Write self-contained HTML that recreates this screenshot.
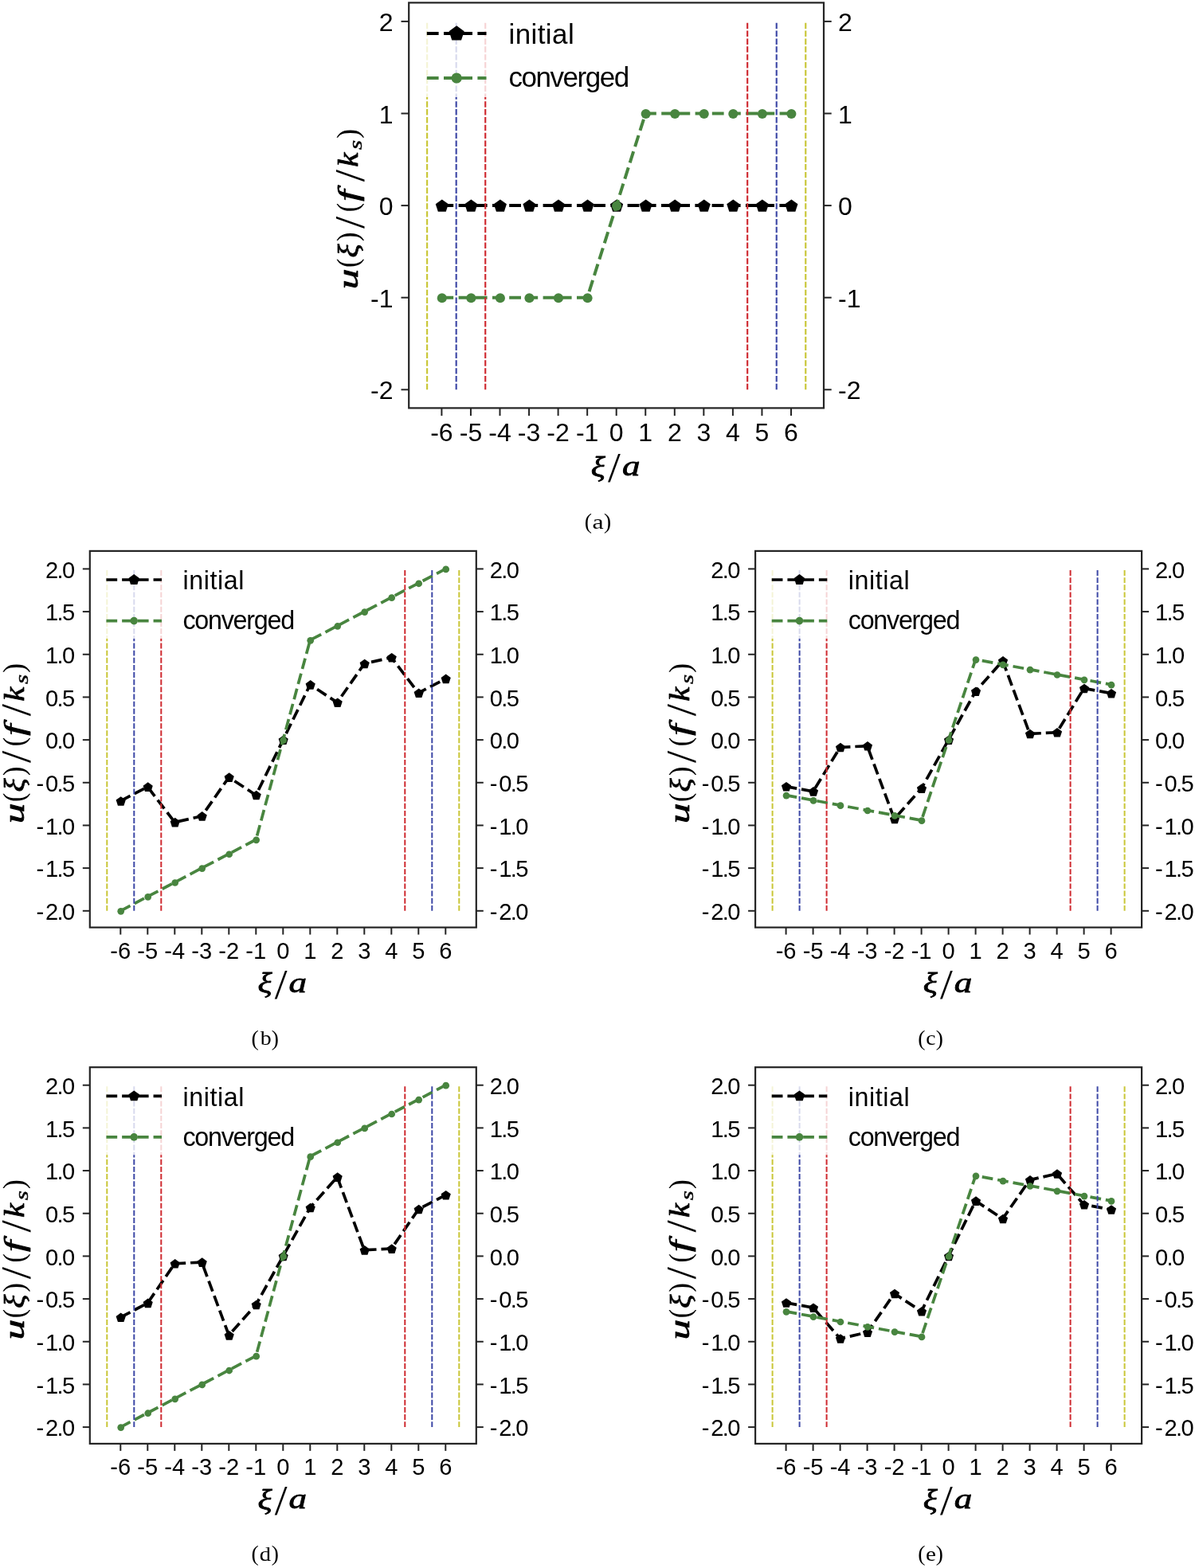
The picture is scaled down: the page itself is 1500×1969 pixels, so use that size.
<!DOCTYPE html>
<html><head><meta charset="utf-8"><title>Figure</title>
<style>
html,body{margin:0;padding:0;background:#fff;}
svg{display:block;}
.sans{font-family:"Liberation Sans","DejaVu Sans",sans-serif;fill:#000;}
.rm{font-family:"Liberation Serif","DejaVu Serif",serif;fill:#000;}
.it{font-family:"Liberation Serif","DejaVu Serif",serif;font-style:italic;fill:#000;}
.bi{font-family:"Liberation Serif","DejaVu Serif",serif;font-weight:bold;font-style:italic;fill:#000;}
</style></head><body>
<svg width="1500" height="1969" viewBox="0 0 1500 1969">
<rect x="0" y="0" width="1500" height="1969" fill="#ffffff"/>
<g>
<polyline points="554.40,258.10 590.95,258.10 627.50,258.10 664.05,258.10 700.60,258.10 737.15,258.10 773.70,258.10 810.25,258.10 846.80,258.10 883.35,258.10 919.90,258.10 956.45,258.10 993.00,258.10" fill="none" stroke="#000000" stroke-width="4.00" stroke-dasharray="14.80 6.40"/>
<polygon points="554.80,250.40 562.84,256.24 559.77,265.69 549.83,265.69 546.76,256.24" fill="#000000"/>
<polygon points="591.35,250.40 599.39,256.24 596.32,265.69 586.38,265.69 583.31,256.24" fill="#000000"/>
<polygon points="627.90,250.40 635.94,256.24 632.87,265.69 622.93,265.69 619.86,256.24" fill="#000000"/>
<polygon points="664.45,250.40 672.49,256.24 669.42,265.69 659.48,265.69 656.41,256.24" fill="#000000"/>
<polygon points="701.00,250.40 709.04,256.24 705.97,265.69 696.03,265.69 692.96,256.24" fill="#000000"/>
<polygon points="737.55,250.40 745.59,256.24 742.52,265.69 732.58,265.69 729.51,256.24" fill="#000000"/>
<polygon points="774.10,250.40 782.14,256.24 779.07,265.69 769.13,265.69 766.06,256.24" fill="#000000"/>
<polygon points="810.65,250.40 818.69,256.24 815.62,265.69 805.68,265.69 802.61,256.24" fill="#000000"/>
<polygon points="847.20,250.40 855.24,256.24 852.17,265.69 842.23,265.69 839.16,256.24" fill="#000000"/>
<polygon points="883.75,250.40 891.79,256.24 888.72,265.69 878.78,265.69 875.71,256.24" fill="#000000"/>
<polygon points="920.30,250.40 928.34,256.24 925.27,265.69 915.33,265.69 912.26,256.24" fill="#000000"/>
<polygon points="956.85,250.40 964.89,256.24 961.82,265.69 951.88,265.69 948.81,256.24" fill="#000000"/>
<polygon points="993.40,250.40 1001.44,256.24 998.37,265.69 988.43,265.69 985.36,256.24" fill="#000000"/>
<polyline points="554.40,373.70 590.95,373.70 627.50,373.70 664.05,373.70 700.60,373.70 737.15,373.70 773.70,258.10 810.25,142.50 846.80,142.50 883.35,142.50 919.90,142.50 956.45,142.50 993.00,142.50" fill="none" stroke="#48853f" stroke-width="4.00" stroke-dasharray="14.80 6.40"/>
<circle cx="554.80" cy="374.20" r="6.05" fill="#48853f"/>
<circle cx="591.35" cy="374.20" r="6.05" fill="#48853f"/>
<circle cx="627.90" cy="374.20" r="6.05" fill="#48853f"/>
<circle cx="664.45" cy="374.20" r="6.05" fill="#48853f"/>
<circle cx="701.00" cy="374.20" r="6.05" fill="#48853f"/>
<circle cx="737.55" cy="374.20" r="6.05" fill="#48853f"/>
<circle cx="774.10" cy="258.60" r="6.05" fill="#48853f"/>
<circle cx="810.65" cy="143.00" r="6.05" fill="#48853f"/>
<circle cx="847.20" cy="143.00" r="6.05" fill="#48853f"/>
<circle cx="883.75" cy="143.00" r="6.05" fill="#48853f"/>
<circle cx="920.30" cy="143.00" r="6.05" fill="#48853f"/>
<circle cx="956.85" cy="143.00" r="6.05" fill="#48853f"/>
<circle cx="993.40" cy="143.00" r="6.05" fill="#48853f"/>
<line x1="536.12" y1="489.30" x2="536.12" y2="26.90" stroke="#c9c636" stroke-width="2.15" stroke-dasharray="7.45 2.40"/>
<line x1="572.68" y1="489.30" x2="572.68" y2="26.90" stroke="#3d48a6" stroke-width="2.15" stroke-dasharray="7.45 2.40"/>
<line x1="609.23" y1="489.30" x2="609.23" y2="26.90" stroke="#cf2a30" stroke-width="2.15" stroke-dasharray="7.45 2.40"/>
<line x1="938.18" y1="489.30" x2="938.18" y2="26.90" stroke="#cf2a30" stroke-width="2.15" stroke-dasharray="7.45 2.40"/>
<line x1="974.73" y1="489.30" x2="974.73" y2="26.90" stroke="#3d48a6" stroke-width="2.15" stroke-dasharray="7.45 2.40"/>
<line x1="1011.28" y1="489.30" x2="1011.28" y2="26.90" stroke="#c9c636" stroke-width="2.15" stroke-dasharray="7.45 2.40"/>
<rect x="524.0" y="14.0" width="280.0" height="108.0" fill="#ffffff" fill-opacity="0.8"/>
<line x1="535.80" y1="42.00" x2="610.50" y2="42.00" stroke="#000000" stroke-width="4.00" stroke-dasharray="14.80 6.40"/>
<polygon points="573.15,32.30 582.66,39.21 579.03,50.39 567.27,50.39 563.64,39.21" fill="#000000"/>
<text class="sans" x="638.5" y="55.3" font-size="35.0" textLength="82.2" lengthAdjust="spacing">initial</text>
<line x1="535.80" y1="98.00" x2="610.50" y2="98.00" stroke="#48853f" stroke-width="4.00" stroke-dasharray="14.80 6.40"/>
<circle cx="573.15" cy="98.00" r="6.60" fill="#48853f"/>
<text class="sans" x="638.5" y="109.3" font-size="35.0" textLength="151.6" lengthAdjust="spacing">converged</text>
<rect x="513.20" y="3.40" width="520.80" height="509.00" fill="none" stroke="#242424" stroke-width="2.20"/>
<line x1="554.40" y1="512.40" x2="554.40" y2="522.10" stroke="#242424" stroke-width="2.00"/>
<text class="sans" x="554.40" y="554.30" font-size="32.0" text-anchor="middle">-6</text>
<line x1="590.95" y1="512.40" x2="590.95" y2="522.10" stroke="#242424" stroke-width="2.00"/>
<text class="sans" x="590.95" y="554.30" font-size="32.0" text-anchor="middle">-5</text>
<line x1="627.50" y1="512.40" x2="627.50" y2="522.10" stroke="#242424" stroke-width="2.00"/>
<text class="sans" x="627.50" y="554.30" font-size="32.0" text-anchor="middle">-4</text>
<line x1="664.05" y1="512.40" x2="664.05" y2="522.10" stroke="#242424" stroke-width="2.00"/>
<text class="sans" x="664.05" y="554.30" font-size="32.0" text-anchor="middle">-3</text>
<line x1="700.60" y1="512.40" x2="700.60" y2="522.10" stroke="#242424" stroke-width="2.00"/>
<text class="sans" x="700.60" y="554.30" font-size="32.0" text-anchor="middle">-2</text>
<line x1="737.15" y1="512.40" x2="737.15" y2="522.10" stroke="#242424" stroke-width="2.00"/>
<text class="sans" x="737.15" y="554.30" font-size="32.0" text-anchor="middle">-1</text>
<line x1="773.70" y1="512.40" x2="773.70" y2="522.10" stroke="#242424" stroke-width="2.00"/>
<text class="sans" x="773.70" y="554.30" font-size="32.0" text-anchor="middle">0</text>
<line x1="810.25" y1="512.40" x2="810.25" y2="522.10" stroke="#242424" stroke-width="2.00"/>
<text class="sans" x="810.25" y="554.30" font-size="32.0" text-anchor="middle">1</text>
<line x1="846.80" y1="512.40" x2="846.80" y2="522.10" stroke="#242424" stroke-width="2.00"/>
<text class="sans" x="846.80" y="554.30" font-size="32.0" text-anchor="middle">2</text>
<line x1="883.35" y1="512.40" x2="883.35" y2="522.10" stroke="#242424" stroke-width="2.00"/>
<text class="sans" x="883.35" y="554.30" font-size="32.0" text-anchor="middle">3</text>
<line x1="919.90" y1="512.40" x2="919.90" y2="522.10" stroke="#242424" stroke-width="2.00"/>
<text class="sans" x="919.90" y="554.30" font-size="32.0" text-anchor="middle">4</text>
<line x1="956.45" y1="512.40" x2="956.45" y2="522.10" stroke="#242424" stroke-width="2.00"/>
<text class="sans" x="956.45" y="554.30" font-size="32.0" text-anchor="middle">5</text>
<line x1="993.00" y1="512.40" x2="993.00" y2="522.10" stroke="#242424" stroke-width="2.00"/>
<text class="sans" x="993.00" y="554.30" font-size="32.0" text-anchor="middle">6</text>
<line x1="503.50" y1="26.90" x2="513.20" y2="26.90" stroke="#242424" stroke-width="2.00"/>
<line x1="1034.00" y1="26.90" x2="1043.70" y2="26.90" stroke="#242424" stroke-width="2.00"/>
<text class="sans" x="493.50" y="38.90" font-size="32.0" text-anchor="end" letter-spacing="0.00">2</text>
<text class="sans" x="1052.00" y="38.90" font-size="32.0" text-anchor="start" letter-spacing="0.00">2</text>
<line x1="503.50" y1="142.50" x2="513.20" y2="142.50" stroke="#242424" stroke-width="2.00"/>
<line x1="1034.00" y1="142.50" x2="1043.70" y2="142.50" stroke="#242424" stroke-width="2.00"/>
<text class="sans" x="493.50" y="154.50" font-size="32.0" text-anchor="end" letter-spacing="0.00">1</text>
<text class="sans" x="1052.00" y="154.50" font-size="32.0" text-anchor="start" letter-spacing="0.00">1</text>
<line x1="503.50" y1="258.10" x2="513.20" y2="258.10" stroke="#242424" stroke-width="2.00"/>
<line x1="1034.00" y1="258.10" x2="1043.70" y2="258.10" stroke="#242424" stroke-width="2.00"/>
<text class="sans" x="493.50" y="270.10" font-size="32.0" text-anchor="end" letter-spacing="0.00">0</text>
<text class="sans" x="1052.00" y="270.10" font-size="32.0" text-anchor="start" letter-spacing="0.00">0</text>
<line x1="503.50" y1="373.70" x2="513.20" y2="373.70" stroke="#242424" stroke-width="2.00"/>
<line x1="1034.00" y1="373.70" x2="1043.70" y2="373.70" stroke="#242424" stroke-width="2.00"/>
<text class="sans" x="493.50" y="385.70" font-size="32.0" text-anchor="end" letter-spacing="0.00">-1</text>
<text class="sans" x="1052.00" y="385.70" font-size="32.0" text-anchor="start" letter-spacing="0.00">-1</text>
<line x1="503.50" y1="489.30" x2="513.20" y2="489.30" stroke="#242424" stroke-width="2.00"/>
<line x1="1034.00" y1="489.30" x2="1043.70" y2="489.30" stroke="#242424" stroke-width="2.00"/>
<text class="sans" x="493.50" y="501.30" font-size="32.0" text-anchor="end" letter-spacing="0.00">-2</text>
<text class="sans" x="1052.00" y="501.30" font-size="32.0" text-anchor="start" letter-spacing="0.00">-2</text>
<g transform="translate(773.70,597.30)">
<text class="it" font-size="100" stroke="#000" stroke-width="2.20" stroke-linejoin="round" transform="matrix(0.4218 0 0 0.3600 -31.84 0.75)">ξ</text>
<text class="rm" font-size="100" transform="matrix(0.5687 0 0 0.5202 -10.60 7.99)">/</text>
<text class="it" font-size="100" stroke="#000" stroke-width="2.20" stroke-linejoin="round" transform="matrix(0.4507 0 0 0.3493 7.26 0.04)">a</text>
</g>
<g transform="translate(449.00,360.60) rotate(-90)">
<text class="it" font-size="100" stroke="#000" stroke-width="2.20" stroke-linejoin="round" transform="matrix(0.5144 0 0 0.3484 -2.56 -0.21)">u</text>
<text class="rm" font-size="100" transform="matrix(0.3426 0 0 0.3860 24.69 0.38)">(</text>
<text class="it" font-size="100" stroke="#000" stroke-width="2.20" stroke-linejoin="round" transform="matrix(0.4015 0 0 0.3543 37.13 0.36)">ξ</text>
<text class="rm" font-size="100" transform="matrix(0.3504 0 0 0.3860 57.27 0.38)">)</text>
<text class="rm" font-size="100" transform="matrix(0.5471 0 0 0.5232 73.60 8.09)">/</text>
<text class="rm" font-size="100" transform="matrix(0.3426 0 0 0.3860 94.29 0.38)">(</text>
<text class="it" font-size="100" stroke="#000" stroke-width="2.20" stroke-linejoin="round" transform="matrix(0.5107 0 0 0.3479 107.93 -0.21)">f</text>
<text class="rm" font-size="100" transform="matrix(0.5471 0 0 0.5232 132.40 8.09)">/</text>
<text class="it" font-size="100" stroke="#000" stroke-width="2.20" stroke-linejoin="round" transform="matrix(0.4073 0 0 0.3560 150.83 0.00)">k</text>
<text class="it" font-size="100" stroke="#000" stroke-width="2.20" stroke-linejoin="round" transform="matrix(0.3115 0 0 0.2370 172.62 4.57)">s</text>
<text class="rm" font-size="100" transform="matrix(0.3660 0 0 0.3860 186.72 0.38)">)</text>
</g>
<g transform="translate(750.45,663.80)">
<text class="rm" font-size="100" transform="matrix(0.2764 0 0 0.2779 -16.66 0.38)">(</text>
<text class="rm" font-size="100" transform="matrix(0.3190 0 0 0.2505 -7.02 0.06)">a</text>
<text class="rm" font-size="100" transform="matrix(0.2764 0 0 0.2779 7.46 0.38)">)</text>
</g>
</g>
<g>
<polyline points="151.30,1005.88 185.30,988.02 219.30,1032.55 253.30,1024.83 287.30,976.07 321.30,998.44 355.30,929.10 389.30,859.76 423.30,882.13 457.30,833.37 491.30,825.65 525.30,870.18 559.30,852.32" fill="none" stroke="#000000" stroke-width="3.72" stroke-dasharray="13.77 5.95"/>
<polygon points="151.70,1000.17 157.79,1004.59 155.46,1011.75 147.94,1011.75 145.61,1004.59" fill="#000000"/>
<polygon points="185.70,982.31 191.79,986.73 189.46,993.88 181.94,993.88 179.61,986.73" fill="#000000"/>
<polygon points="219.70,1026.84 225.79,1031.26 223.46,1038.42 215.94,1038.42 213.61,1031.26" fill="#000000"/>
<polygon points="253.70,1019.12 259.79,1023.55 257.46,1030.70 249.94,1030.70 247.61,1023.55" fill="#000000"/>
<polygon points="287.70,970.37 293.79,974.79 291.46,981.94 283.94,981.94 281.61,974.79" fill="#000000"/>
<polygon points="321.70,992.73 327.79,997.15 325.46,1004.31 317.94,1004.31 315.61,997.15" fill="#000000"/>
<polygon points="355.70,923.39 361.79,927.81 359.46,934.97 351.94,934.97 349.61,927.81" fill="#000000"/>
<polygon points="389.70,854.06 395.79,858.48 393.46,865.63 385.94,865.63 383.61,858.48" fill="#000000"/>
<polygon points="423.70,876.42 429.79,880.84 427.46,887.99 419.94,887.99 417.61,880.84" fill="#000000"/>
<polygon points="457.70,827.66 463.79,832.08 461.46,839.24 453.94,839.24 451.61,832.08" fill="#000000"/>
<polygon points="491.70,819.94 497.79,824.37 495.46,831.52 487.94,831.52 485.61,824.37" fill="#000000"/>
<polygon points="525.70,864.48 531.79,868.90 529.46,876.05 521.94,876.05 519.61,868.90" fill="#000000"/>
<polygon points="559.70,846.62 565.79,851.04 563.46,858.19 555.94,858.19 553.61,851.04" fill="#000000"/>
<polyline points="151.30,1143.80 185.30,1125.91 219.30,1108.02 253.30,1090.12 287.30,1072.23 321.30,1054.34 355.30,929.10 389.30,803.86 423.30,785.97 457.30,768.08 491.30,750.18 525.30,732.29 559.30,714.40" fill="none" stroke="#48853f" stroke-width="3.72" stroke-dasharray="13.77 5.95"/>
<circle cx="151.70" cy="1144.30" r="4.35" fill="#48853f"/>
<circle cx="185.70" cy="1126.41" r="4.35" fill="#48853f"/>
<circle cx="219.70" cy="1108.52" r="4.35" fill="#48853f"/>
<circle cx="253.70" cy="1090.62" r="4.35" fill="#48853f"/>
<circle cx="287.70" cy="1072.73" r="4.35" fill="#48853f"/>
<circle cx="321.70" cy="1054.84" r="4.35" fill="#48853f"/>
<circle cx="355.70" cy="929.60" r="4.35" fill="#48853f"/>
<circle cx="389.70" cy="804.36" r="4.35" fill="#48853f"/>
<circle cx="423.70" cy="786.47" r="4.35" fill="#48853f"/>
<circle cx="457.70" cy="768.58" r="4.35" fill="#48853f"/>
<circle cx="491.70" cy="750.68" r="4.35" fill="#48853f"/>
<circle cx="525.70" cy="732.79" r="4.35" fill="#48853f"/>
<circle cx="559.70" cy="714.90" r="4.35" fill="#48853f"/>
<line x1="134.30" y1="1143.80" x2="134.30" y2="714.40" stroke="#c9c636" stroke-width="2.00" stroke-dasharray="6.90 2.25"/>
<line x1="168.30" y1="1143.80" x2="168.30" y2="714.40" stroke="#3d48a6" stroke-width="2.00" stroke-dasharray="6.90 2.25"/>
<line x1="202.30" y1="1143.80" x2="202.30" y2="714.40" stroke="#cf2a30" stroke-width="2.00" stroke-dasharray="6.90 2.25"/>
<line x1="508.30" y1="1143.80" x2="508.30" y2="714.40" stroke="#cf2a30" stroke-width="2.00" stroke-dasharray="6.90 2.25"/>
<line x1="542.30" y1="1143.80" x2="542.30" y2="714.40" stroke="#3d48a6" stroke-width="2.00" stroke-dasharray="6.90 2.25"/>
<line x1="576.30" y1="1143.80" x2="576.30" y2="714.40" stroke="#c9c636" stroke-width="2.00" stroke-dasharray="6.90 2.25"/>
<rect x="123.0" y="702.0" width="262.0" height="100.0" fill="#ffffff" fill-opacity="0.8"/>
<line x1="133.40" y1="728.00" x2="203.00" y2="728.00" stroke="#000000" stroke-width="3.72" stroke-dasharray="13.77 5.95"/>
<polygon points="168.20,721.11 174.95,726.02 172.37,733.96 164.03,733.96 161.45,726.02" fill="#000000"/>
<text class="sans" x="229.5" y="740.3" font-size="32.3" textLength="77.0" lengthAdjust="spacing">initial</text>
<line x1="133.40" y1="779.60" x2="203.00" y2="779.60" stroke="#48853f" stroke-width="3.72" stroke-dasharray="13.77 5.95"/>
<circle cx="168.20" cy="779.60" r="4.80" fill="#48853f"/>
<text class="sans" x="229.5" y="790.3" font-size="32.3" textLength="140.6" lengthAdjust="spacing">converged</text>
<rect x="112.80" y="691.90" width="485.00" height="472.70" fill="none" stroke="#242424" stroke-width="2.20"/>
<line x1="151.30" y1="1164.60" x2="151.30" y2="1173.60" stroke="#242424" stroke-width="2.00"/>
<text class="sans" x="151.30" y="1204.00" font-size="29.1" text-anchor="middle">-6</text>
<line x1="185.30" y1="1164.60" x2="185.30" y2="1173.60" stroke="#242424" stroke-width="2.00"/>
<text class="sans" x="185.30" y="1204.00" font-size="29.1" text-anchor="middle">-5</text>
<line x1="219.30" y1="1164.60" x2="219.30" y2="1173.60" stroke="#242424" stroke-width="2.00"/>
<text class="sans" x="219.30" y="1204.00" font-size="29.1" text-anchor="middle">-4</text>
<line x1="253.30" y1="1164.60" x2="253.30" y2="1173.60" stroke="#242424" stroke-width="2.00"/>
<text class="sans" x="253.30" y="1204.00" font-size="29.1" text-anchor="middle">-3</text>
<line x1="287.30" y1="1164.60" x2="287.30" y2="1173.60" stroke="#242424" stroke-width="2.00"/>
<text class="sans" x="287.30" y="1204.00" font-size="29.1" text-anchor="middle">-2</text>
<line x1="321.30" y1="1164.60" x2="321.30" y2="1173.60" stroke="#242424" stroke-width="2.00"/>
<text class="sans" x="321.30" y="1204.00" font-size="29.1" text-anchor="middle">-1</text>
<line x1="355.30" y1="1164.60" x2="355.30" y2="1173.60" stroke="#242424" stroke-width="2.00"/>
<text class="sans" x="355.30" y="1204.00" font-size="29.1" text-anchor="middle">0</text>
<line x1="389.30" y1="1164.60" x2="389.30" y2="1173.60" stroke="#242424" stroke-width="2.00"/>
<text class="sans" x="389.30" y="1204.00" font-size="29.1" text-anchor="middle">1</text>
<line x1="423.30" y1="1164.60" x2="423.30" y2="1173.60" stroke="#242424" stroke-width="2.00"/>
<text class="sans" x="423.30" y="1204.00" font-size="29.1" text-anchor="middle">2</text>
<line x1="457.30" y1="1164.60" x2="457.30" y2="1173.60" stroke="#242424" stroke-width="2.00"/>
<text class="sans" x="457.30" y="1204.00" font-size="29.1" text-anchor="middle">3</text>
<line x1="491.30" y1="1164.60" x2="491.30" y2="1173.60" stroke="#242424" stroke-width="2.00"/>
<text class="sans" x="491.30" y="1204.00" font-size="29.1" text-anchor="middle">4</text>
<line x1="525.30" y1="1164.60" x2="525.30" y2="1173.60" stroke="#242424" stroke-width="2.00"/>
<text class="sans" x="525.30" y="1204.00" font-size="29.1" text-anchor="middle">5</text>
<line x1="559.30" y1="1164.60" x2="559.30" y2="1173.60" stroke="#242424" stroke-width="2.00"/>
<text class="sans" x="559.30" y="1204.00" font-size="29.1" text-anchor="middle">6</text>
<line x1="103.80" y1="714.40" x2="112.80" y2="714.40" stroke="#242424" stroke-width="2.00"/>
<line x1="597.80" y1="714.40" x2="606.80" y2="714.40" stroke="#242424" stroke-width="2.00"/>
<text class="sans" x="92.40" y="725.60" font-size="29.1" text-anchor="end" letter-spacing="-1.70">2.0</text>
<text class="sans" x="614.80" y="725.60" font-size="29.1" text-anchor="start" letter-spacing="-1.70">2.0</text>
<line x1="103.80" y1="768.08" x2="112.80" y2="768.08" stroke="#242424" stroke-width="2.00"/>
<line x1="597.80" y1="768.08" x2="606.80" y2="768.08" stroke="#242424" stroke-width="2.00"/>
<text class="sans" x="92.40" y="779.28" font-size="29.1" text-anchor="end" letter-spacing="-1.70">1.5</text>
<text class="sans" x="614.80" y="779.28" font-size="29.1" text-anchor="start" letter-spacing="-1.70">1.5</text>
<line x1="103.80" y1="821.75" x2="112.80" y2="821.75" stroke="#242424" stroke-width="2.00"/>
<line x1="597.80" y1="821.75" x2="606.80" y2="821.75" stroke="#242424" stroke-width="2.00"/>
<text class="sans" x="92.40" y="832.95" font-size="29.1" text-anchor="end" letter-spacing="-1.70">1.0</text>
<text class="sans" x="614.80" y="832.95" font-size="29.1" text-anchor="start" letter-spacing="-1.70">1.0</text>
<line x1="103.80" y1="875.43" x2="112.80" y2="875.43" stroke="#242424" stroke-width="2.00"/>
<line x1="597.80" y1="875.43" x2="606.80" y2="875.43" stroke="#242424" stroke-width="2.00"/>
<text class="sans" x="92.40" y="886.63" font-size="29.1" text-anchor="end" letter-spacing="-1.70">0.5</text>
<text class="sans" x="614.80" y="886.63" font-size="29.1" text-anchor="start" letter-spacing="-1.70">0.5</text>
<line x1="103.80" y1="929.10" x2="112.80" y2="929.10" stroke="#242424" stroke-width="2.00"/>
<line x1="597.80" y1="929.10" x2="606.80" y2="929.10" stroke="#242424" stroke-width="2.00"/>
<text class="sans" x="92.40" y="940.30" font-size="29.1" text-anchor="end" letter-spacing="-1.70">0.0</text>
<text class="sans" x="614.80" y="940.30" font-size="29.1" text-anchor="start" letter-spacing="-1.70">0.0</text>
<line x1="103.80" y1="982.77" x2="112.80" y2="982.77" stroke="#242424" stroke-width="2.00"/>
<line x1="597.80" y1="982.77" x2="606.80" y2="982.77" stroke="#242424" stroke-width="2.00"/>
<text class="sans" x="92.40" y="993.98" font-size="29.1" text-anchor="end" letter-spacing="-1.70"><tspan letter-spacing="1.80">-</tspan>0.5</text>
<text class="sans" x="614.80" y="993.98" font-size="29.1" text-anchor="start" letter-spacing="-1.70"><tspan letter-spacing="1.80">-</tspan>0.5</text>
<line x1="103.80" y1="1036.45" x2="112.80" y2="1036.45" stroke="#242424" stroke-width="2.00"/>
<line x1="597.80" y1="1036.45" x2="606.80" y2="1036.45" stroke="#242424" stroke-width="2.00"/>
<text class="sans" x="92.40" y="1047.65" font-size="29.1" text-anchor="end" letter-spacing="-1.70"><tspan letter-spacing="1.80">-</tspan>1.0</text>
<text class="sans" x="614.80" y="1047.65" font-size="29.1" text-anchor="start" letter-spacing="-1.70"><tspan letter-spacing="1.80">-</tspan>1.0</text>
<line x1="103.80" y1="1090.12" x2="112.80" y2="1090.12" stroke="#242424" stroke-width="2.00"/>
<line x1="597.80" y1="1090.12" x2="606.80" y2="1090.12" stroke="#242424" stroke-width="2.00"/>
<text class="sans" x="92.40" y="1101.33" font-size="29.1" text-anchor="end" letter-spacing="-1.70"><tspan letter-spacing="1.80">-</tspan>1.5</text>
<text class="sans" x="614.80" y="1101.33" font-size="29.1" text-anchor="start" letter-spacing="-1.70"><tspan letter-spacing="1.80">-</tspan>1.5</text>
<line x1="103.80" y1="1143.80" x2="112.80" y2="1143.80" stroke="#242424" stroke-width="2.00"/>
<line x1="597.80" y1="1143.80" x2="606.80" y2="1143.80" stroke="#242424" stroke-width="2.00"/>
<text class="sans" x="92.40" y="1155.00" font-size="29.1" text-anchor="end" letter-spacing="-1.70"><tspan letter-spacing="1.80">-</tspan>2.0</text>
<text class="sans" x="614.80" y="1155.00" font-size="29.1" text-anchor="start" letter-spacing="-1.70"><tspan letter-spacing="1.80">-</tspan>2.0</text>
<g transform="translate(355.30,1245.60)">
<text class="it" font-size="100" stroke="#000" stroke-width="2.20" stroke-linejoin="round" transform="matrix(0.4218 0 0 0.3600 -31.84 0.75)">ξ</text>
<text class="rm" font-size="100" transform="matrix(0.5687 0 0 0.5202 -10.60 7.99)">/</text>
<text class="it" font-size="100" stroke="#000" stroke-width="2.20" stroke-linejoin="round" transform="matrix(0.4507 0 0 0.3493 7.26 0.04)">a</text>
</g>
<g transform="translate(30.10,1031.60) rotate(-90)">
<text class="it" font-size="100" stroke="#000" stroke-width="2.20" stroke-linejoin="round" transform="matrix(0.5144 0 0 0.3484 -2.56 -0.21)">u</text>
<text class="rm" font-size="100" transform="matrix(0.3426 0 0 0.3860 24.69 0.38)">(</text>
<text class="it" font-size="100" stroke="#000" stroke-width="2.20" stroke-linejoin="round" transform="matrix(0.4015 0 0 0.3543 37.13 0.36)">ξ</text>
<text class="rm" font-size="100" transform="matrix(0.3504 0 0 0.3860 57.27 0.38)">)</text>
<text class="rm" font-size="100" transform="matrix(0.5471 0 0 0.5232 73.60 8.09)">/</text>
<text class="rm" font-size="100" transform="matrix(0.3426 0 0 0.3860 94.29 0.38)">(</text>
<text class="it" font-size="100" stroke="#000" stroke-width="2.20" stroke-linejoin="round" transform="matrix(0.5107 0 0 0.3479 107.93 -0.21)">f</text>
<text class="rm" font-size="100" transform="matrix(0.5471 0 0 0.5232 132.40 8.09)">/</text>
<text class="it" font-size="100" stroke="#000" stroke-width="2.20" stroke-linejoin="round" transform="matrix(0.4073 0 0 0.3560 150.83 0.00)">k</text>
<text class="it" font-size="100" stroke="#000" stroke-width="2.20" stroke-linejoin="round" transform="matrix(0.3115 0 0 0.2370 172.62 4.57)">s</text>
<text class="rm" font-size="100" transform="matrix(0.3660 0 0 0.3860 186.72 0.38)">)</text>
</g>
<g transform="translate(332.75,1312.20)">
<text class="rm" font-size="100" transform="matrix(0.2764 0 0 0.2779 -17.26 0.38)">(</text>
<text class="rm" font-size="100" transform="matrix(0.2793 0 0 0.2601 -6.05 0.05)">b</text>
<text class="rm" font-size="100" transform="matrix(0.2764 0 0 0.2779 8.06 0.38)">)</text>
</g>
</g>
<g>
<polyline points="986.60,987.59 1020.60,993.81 1054.60,938.45 1088.60,936.73 1122.60,1028.46 1156.60,990.08 1190.60,929.10 1224.60,868.12 1258.60,829.74 1292.60,921.47 1326.60,919.75 1360.60,864.39 1394.60,870.61" fill="none" stroke="#000000" stroke-width="3.72" stroke-dasharray="13.77 5.95"/>
<polygon points="987.00,981.89 993.09,986.31 990.76,993.46 983.24,993.46 980.91,986.31" fill="#000000"/>
<polygon points="1021.00,988.10 1027.09,992.52 1024.76,999.68 1017.24,999.68 1014.91,992.52" fill="#000000"/>
<polygon points="1055.00,932.75 1061.09,937.17 1058.76,944.32 1051.24,944.32 1048.91,937.17" fill="#000000"/>
<polygon points="1089.00,931.02 1095.09,935.44 1092.76,942.60 1085.24,942.60 1082.91,935.44" fill="#000000"/>
<polygon points="1123.00,1022.75 1129.09,1027.18 1126.76,1034.33 1119.24,1034.33 1116.91,1027.18" fill="#000000"/>
<polygon points="1157.00,984.37 1163.09,988.79 1160.76,995.95 1153.24,995.95 1150.91,988.79" fill="#000000"/>
<polygon points="1191.00,923.39 1197.09,927.81 1194.76,934.97 1187.24,934.97 1184.91,927.81" fill="#000000"/>
<polygon points="1225.00,862.41 1231.09,866.83 1228.76,873.99 1221.24,873.99 1218.91,866.83" fill="#000000"/>
<polygon points="1259.00,824.03 1265.09,828.45 1262.76,835.61 1255.24,835.61 1252.91,828.45" fill="#000000"/>
<polygon points="1293.00,915.77 1299.09,920.19 1296.76,927.34 1289.24,927.34 1286.91,920.19" fill="#000000"/>
<polygon points="1327.00,914.04 1333.09,918.46 1330.76,925.62 1323.24,925.62 1320.91,918.46" fill="#000000"/>
<polygon points="1361.00,858.69 1367.09,863.11 1364.76,870.26 1357.24,870.26 1354.91,863.11" fill="#000000"/>
<polygon points="1395.00,864.90 1401.09,869.32 1398.76,876.48 1391.24,876.48 1388.91,869.32" fill="#000000"/>
<polyline points="986.60,998.56 1020.60,1004.88 1054.60,1011.19 1088.60,1017.51 1122.60,1023.82 1156.60,1030.14 1190.60,929.10 1224.60,828.06 1258.60,834.38 1292.60,840.69 1326.60,847.01 1360.60,853.32 1394.60,859.64" fill="none" stroke="#48853f" stroke-width="3.72" stroke-dasharray="13.77 5.95"/>
<circle cx="987.00" cy="999.06" r="4.35" fill="#48853f"/>
<circle cx="1021.00" cy="1005.38" r="4.35" fill="#48853f"/>
<circle cx="1055.00" cy="1011.69" r="4.35" fill="#48853f"/>
<circle cx="1089.00" cy="1018.01" r="4.35" fill="#48853f"/>
<circle cx="1123.00" cy="1024.32" r="4.35" fill="#48853f"/>
<circle cx="1157.00" cy="1030.64" r="4.35" fill="#48853f"/>
<circle cx="1191.00" cy="929.60" r="4.35" fill="#48853f"/>
<circle cx="1225.00" cy="828.56" r="4.35" fill="#48853f"/>
<circle cx="1259.00" cy="834.88" r="4.35" fill="#48853f"/>
<circle cx="1293.00" cy="841.19" r="4.35" fill="#48853f"/>
<circle cx="1327.00" cy="847.51" r="4.35" fill="#48853f"/>
<circle cx="1361.00" cy="853.82" r="4.35" fill="#48853f"/>
<circle cx="1395.00" cy="860.14" r="4.35" fill="#48853f"/>
<line x1="969.60" y1="1143.80" x2="969.60" y2="714.40" stroke="#c9c636" stroke-width="2.00" stroke-dasharray="6.90 2.25"/>
<line x1="1003.60" y1="1143.80" x2="1003.60" y2="714.40" stroke="#3d48a6" stroke-width="2.00" stroke-dasharray="6.90 2.25"/>
<line x1="1037.60" y1="1143.80" x2="1037.60" y2="714.40" stroke="#cf2a30" stroke-width="2.00" stroke-dasharray="6.90 2.25"/>
<line x1="1343.60" y1="1143.80" x2="1343.60" y2="714.40" stroke="#cf2a30" stroke-width="2.00" stroke-dasharray="6.90 2.25"/>
<line x1="1377.60" y1="1143.80" x2="1377.60" y2="714.40" stroke="#3d48a6" stroke-width="2.00" stroke-dasharray="6.90 2.25"/>
<line x1="1411.60" y1="1143.80" x2="1411.60" y2="714.40" stroke="#c9c636" stroke-width="2.00" stroke-dasharray="6.90 2.25"/>
<rect x="958.3" y="702.0" width="262.0" height="100.0" fill="#ffffff" fill-opacity="0.8"/>
<line x1="968.70" y1="728.00" x2="1038.30" y2="728.00" stroke="#000000" stroke-width="3.72" stroke-dasharray="13.77 5.95"/>
<polygon points="1003.50,721.11 1010.25,726.02 1007.67,733.96 999.33,733.96 996.75,726.02" fill="#000000"/>
<text class="sans" x="1064.8" y="740.3" font-size="32.3" textLength="77.0" lengthAdjust="spacing">initial</text>
<line x1="968.70" y1="779.60" x2="1038.30" y2="779.60" stroke="#48853f" stroke-width="3.72" stroke-dasharray="13.77 5.95"/>
<circle cx="1003.50" cy="779.60" r="4.80" fill="#48853f"/>
<text class="sans" x="1064.8" y="790.3" font-size="32.3" textLength="140.6" lengthAdjust="spacing">converged</text>
<rect x="948.10" y="691.90" width="485.00" height="472.70" fill="none" stroke="#242424" stroke-width="2.20"/>
<line x1="986.60" y1="1164.60" x2="986.60" y2="1173.60" stroke="#242424" stroke-width="2.00"/>
<text class="sans" x="986.60" y="1204.00" font-size="29.1" text-anchor="middle">-6</text>
<line x1="1020.60" y1="1164.60" x2="1020.60" y2="1173.60" stroke="#242424" stroke-width="2.00"/>
<text class="sans" x="1020.60" y="1204.00" font-size="29.1" text-anchor="middle">-5</text>
<line x1="1054.60" y1="1164.60" x2="1054.60" y2="1173.60" stroke="#242424" stroke-width="2.00"/>
<text class="sans" x="1054.60" y="1204.00" font-size="29.1" text-anchor="middle">-4</text>
<line x1="1088.60" y1="1164.60" x2="1088.60" y2="1173.60" stroke="#242424" stroke-width="2.00"/>
<text class="sans" x="1088.60" y="1204.00" font-size="29.1" text-anchor="middle">-3</text>
<line x1="1122.60" y1="1164.60" x2="1122.60" y2="1173.60" stroke="#242424" stroke-width="2.00"/>
<text class="sans" x="1122.60" y="1204.00" font-size="29.1" text-anchor="middle">-2</text>
<line x1="1156.60" y1="1164.60" x2="1156.60" y2="1173.60" stroke="#242424" stroke-width="2.00"/>
<text class="sans" x="1156.60" y="1204.00" font-size="29.1" text-anchor="middle">-1</text>
<line x1="1190.60" y1="1164.60" x2="1190.60" y2="1173.60" stroke="#242424" stroke-width="2.00"/>
<text class="sans" x="1190.60" y="1204.00" font-size="29.1" text-anchor="middle">0</text>
<line x1="1224.60" y1="1164.60" x2="1224.60" y2="1173.60" stroke="#242424" stroke-width="2.00"/>
<text class="sans" x="1224.60" y="1204.00" font-size="29.1" text-anchor="middle">1</text>
<line x1="1258.60" y1="1164.60" x2="1258.60" y2="1173.60" stroke="#242424" stroke-width="2.00"/>
<text class="sans" x="1258.60" y="1204.00" font-size="29.1" text-anchor="middle">2</text>
<line x1="1292.60" y1="1164.60" x2="1292.60" y2="1173.60" stroke="#242424" stroke-width="2.00"/>
<text class="sans" x="1292.60" y="1204.00" font-size="29.1" text-anchor="middle">3</text>
<line x1="1326.60" y1="1164.60" x2="1326.60" y2="1173.60" stroke="#242424" stroke-width="2.00"/>
<text class="sans" x="1326.60" y="1204.00" font-size="29.1" text-anchor="middle">4</text>
<line x1="1360.60" y1="1164.60" x2="1360.60" y2="1173.60" stroke="#242424" stroke-width="2.00"/>
<text class="sans" x="1360.60" y="1204.00" font-size="29.1" text-anchor="middle">5</text>
<line x1="1394.60" y1="1164.60" x2="1394.60" y2="1173.60" stroke="#242424" stroke-width="2.00"/>
<text class="sans" x="1394.60" y="1204.00" font-size="29.1" text-anchor="middle">6</text>
<line x1="939.10" y1="714.40" x2="948.10" y2="714.40" stroke="#242424" stroke-width="2.00"/>
<line x1="1433.10" y1="714.40" x2="1442.10" y2="714.40" stroke="#242424" stroke-width="2.00"/>
<text class="sans" x="927.70" y="725.60" font-size="29.1" text-anchor="end" letter-spacing="-1.70">2.0</text>
<text class="sans" x="1450.10" y="725.60" font-size="29.1" text-anchor="start" letter-spacing="-1.70">2.0</text>
<line x1="939.10" y1="768.08" x2="948.10" y2="768.08" stroke="#242424" stroke-width="2.00"/>
<line x1="1433.10" y1="768.08" x2="1442.10" y2="768.08" stroke="#242424" stroke-width="2.00"/>
<text class="sans" x="927.70" y="779.28" font-size="29.1" text-anchor="end" letter-spacing="-1.70">1.5</text>
<text class="sans" x="1450.10" y="779.28" font-size="29.1" text-anchor="start" letter-spacing="-1.70">1.5</text>
<line x1="939.10" y1="821.75" x2="948.10" y2="821.75" stroke="#242424" stroke-width="2.00"/>
<line x1="1433.10" y1="821.75" x2="1442.10" y2="821.75" stroke="#242424" stroke-width="2.00"/>
<text class="sans" x="927.70" y="832.95" font-size="29.1" text-anchor="end" letter-spacing="-1.70">1.0</text>
<text class="sans" x="1450.10" y="832.95" font-size="29.1" text-anchor="start" letter-spacing="-1.70">1.0</text>
<line x1="939.10" y1="875.43" x2="948.10" y2="875.43" stroke="#242424" stroke-width="2.00"/>
<line x1="1433.10" y1="875.43" x2="1442.10" y2="875.43" stroke="#242424" stroke-width="2.00"/>
<text class="sans" x="927.70" y="886.63" font-size="29.1" text-anchor="end" letter-spacing="-1.70">0.5</text>
<text class="sans" x="1450.10" y="886.63" font-size="29.1" text-anchor="start" letter-spacing="-1.70">0.5</text>
<line x1="939.10" y1="929.10" x2="948.10" y2="929.10" stroke="#242424" stroke-width="2.00"/>
<line x1="1433.10" y1="929.10" x2="1442.10" y2="929.10" stroke="#242424" stroke-width="2.00"/>
<text class="sans" x="927.70" y="940.30" font-size="29.1" text-anchor="end" letter-spacing="-1.70">0.0</text>
<text class="sans" x="1450.10" y="940.30" font-size="29.1" text-anchor="start" letter-spacing="-1.70">0.0</text>
<line x1="939.10" y1="982.77" x2="948.10" y2="982.77" stroke="#242424" stroke-width="2.00"/>
<line x1="1433.10" y1="982.77" x2="1442.10" y2="982.77" stroke="#242424" stroke-width="2.00"/>
<text class="sans" x="927.70" y="993.98" font-size="29.1" text-anchor="end" letter-spacing="-1.70"><tspan letter-spacing="1.80">-</tspan>0.5</text>
<text class="sans" x="1450.10" y="993.98" font-size="29.1" text-anchor="start" letter-spacing="-1.70"><tspan letter-spacing="1.80">-</tspan>0.5</text>
<line x1="939.10" y1="1036.45" x2="948.10" y2="1036.45" stroke="#242424" stroke-width="2.00"/>
<line x1="1433.10" y1="1036.45" x2="1442.10" y2="1036.45" stroke="#242424" stroke-width="2.00"/>
<text class="sans" x="927.70" y="1047.65" font-size="29.1" text-anchor="end" letter-spacing="-1.70"><tspan letter-spacing="1.80">-</tspan>1.0</text>
<text class="sans" x="1450.10" y="1047.65" font-size="29.1" text-anchor="start" letter-spacing="-1.70"><tspan letter-spacing="1.80">-</tspan>1.0</text>
<line x1="939.10" y1="1090.12" x2="948.10" y2="1090.12" stroke="#242424" stroke-width="2.00"/>
<line x1="1433.10" y1="1090.12" x2="1442.10" y2="1090.12" stroke="#242424" stroke-width="2.00"/>
<text class="sans" x="927.70" y="1101.33" font-size="29.1" text-anchor="end" letter-spacing="-1.70"><tspan letter-spacing="1.80">-</tspan>1.5</text>
<text class="sans" x="1450.10" y="1101.33" font-size="29.1" text-anchor="start" letter-spacing="-1.70"><tspan letter-spacing="1.80">-</tspan>1.5</text>
<line x1="939.10" y1="1143.80" x2="948.10" y2="1143.80" stroke="#242424" stroke-width="2.00"/>
<line x1="1433.10" y1="1143.80" x2="1442.10" y2="1143.80" stroke="#242424" stroke-width="2.00"/>
<text class="sans" x="927.70" y="1155.00" font-size="29.1" text-anchor="end" letter-spacing="-1.70"><tspan letter-spacing="1.80">-</tspan>2.0</text>
<text class="sans" x="1450.10" y="1155.00" font-size="29.1" text-anchor="start" letter-spacing="-1.70"><tspan letter-spacing="1.80">-</tspan>2.0</text>
<g transform="translate(1190.60,1245.60)">
<text class="it" font-size="100" stroke="#000" stroke-width="2.20" stroke-linejoin="round" transform="matrix(0.4218 0 0 0.3600 -31.84 0.75)">ξ</text>
<text class="rm" font-size="100" transform="matrix(0.5687 0 0 0.5202 -10.60 7.99)">/</text>
<text class="it" font-size="100" stroke="#000" stroke-width="2.20" stroke-linejoin="round" transform="matrix(0.4507 0 0 0.3493 7.26 0.04)">a</text>
</g>
<g transform="translate(865.40,1031.60) rotate(-90)">
<text class="it" font-size="100" stroke="#000" stroke-width="2.20" stroke-linejoin="round" transform="matrix(0.5144 0 0 0.3484 -2.56 -0.21)">u</text>
<text class="rm" font-size="100" transform="matrix(0.3426 0 0 0.3860 24.69 0.38)">(</text>
<text class="it" font-size="100" stroke="#000" stroke-width="2.20" stroke-linejoin="round" transform="matrix(0.4015 0 0 0.3543 37.13 0.36)">ξ</text>
<text class="rm" font-size="100" transform="matrix(0.3504 0 0 0.3860 57.27 0.38)">)</text>
<text class="rm" font-size="100" transform="matrix(0.5471 0 0 0.5232 73.60 8.09)">/</text>
<text class="rm" font-size="100" transform="matrix(0.3426 0 0 0.3860 94.29 0.38)">(</text>
<text class="it" font-size="100" stroke="#000" stroke-width="2.20" stroke-linejoin="round" transform="matrix(0.5107 0 0 0.3479 107.93 -0.21)">f</text>
<text class="rm" font-size="100" transform="matrix(0.5471 0 0 0.5232 132.40 8.09)">/</text>
<text class="it" font-size="100" stroke="#000" stroke-width="2.20" stroke-linejoin="round" transform="matrix(0.4073 0 0 0.3560 150.83 0.00)">k</text>
<text class="it" font-size="100" stroke="#000" stroke-width="2.20" stroke-linejoin="round" transform="matrix(0.3115 0 0 0.2370 172.62 4.57)">s</text>
<text class="rm" font-size="100" transform="matrix(0.3660 0 0 0.3860 186.72 0.38)">)</text>
</g>
<g transform="translate(1168.05,1312.20)">
<text class="rm" font-size="100" transform="matrix(0.2764 0 0 0.2779 -15.81 0.38)">(</text>
<text class="rm" font-size="100" transform="matrix(0.2747 0 0 0.2495 -5.80 0.06)">c</text>
<text class="rm" font-size="100" transform="matrix(0.2764 0 0 0.2779 6.61 0.38)">)</text>
</g>
</g>
<g>
<polyline points="151.30,1654.18 185.30,1636.32 219.30,1586.75 253.30,1585.03 287.30,1676.76 321.30,1638.38 355.30,1577.40 389.30,1516.42 423.30,1478.04 457.30,1569.77 491.30,1568.05 525.30,1518.48 559.30,1500.62" fill="none" stroke="#000000" stroke-width="3.72" stroke-dasharray="13.77 5.95"/>
<polygon points="151.70,1648.47 157.79,1652.89 155.46,1660.05 147.94,1660.05 145.61,1652.89" fill="#000000"/>
<polygon points="185.70,1630.61 191.79,1635.03 189.46,1642.18 181.94,1642.18 179.61,1635.03" fill="#000000"/>
<polygon points="219.70,1581.05 225.79,1585.47 223.46,1592.62 215.94,1592.62 213.61,1585.47" fill="#000000"/>
<polygon points="253.70,1579.32 259.79,1583.74 257.46,1590.90 249.94,1590.90 247.61,1583.74" fill="#000000"/>
<polygon points="287.70,1671.05 293.79,1675.48 291.46,1682.63 283.94,1682.63 281.61,1675.48" fill="#000000"/>
<polygon points="321.70,1632.67 327.79,1637.09 325.46,1644.25 317.94,1644.25 315.61,1637.09" fill="#000000"/>
<polygon points="355.70,1571.69 361.79,1576.11 359.46,1583.27 351.94,1583.27 349.61,1576.11" fill="#000000"/>
<polygon points="389.70,1510.71 395.79,1515.13 393.46,1522.29 385.94,1522.29 383.61,1515.13" fill="#000000"/>
<polygon points="423.70,1472.33 429.79,1476.75 427.46,1483.91 419.94,1483.91 417.61,1476.75" fill="#000000"/>
<polygon points="457.70,1564.07 463.79,1568.49 461.46,1575.64 453.94,1575.64 451.61,1568.49" fill="#000000"/>
<polygon points="491.70,1562.34 497.79,1566.76 495.46,1573.92 487.94,1573.92 485.61,1566.76" fill="#000000"/>
<polygon points="525.70,1512.78 531.79,1517.20 529.46,1524.35 521.94,1524.35 519.61,1517.20" fill="#000000"/>
<polygon points="559.70,1494.92 565.79,1499.34 563.46,1506.49 555.94,1506.49 553.61,1499.34" fill="#000000"/>
<polyline points="151.30,1792.10 185.30,1774.21 219.30,1756.32 253.30,1738.43 287.30,1720.53 321.30,1702.64 355.30,1577.40 389.30,1452.16 423.30,1434.27 457.30,1416.38 491.30,1398.48 525.30,1380.59 559.30,1362.70" fill="none" stroke="#48853f" stroke-width="3.72" stroke-dasharray="13.77 5.95"/>
<circle cx="151.70" cy="1792.60" r="4.35" fill="#48853f"/>
<circle cx="185.70" cy="1774.71" r="4.35" fill="#48853f"/>
<circle cx="219.70" cy="1756.82" r="4.35" fill="#48853f"/>
<circle cx="253.70" cy="1738.93" r="4.35" fill="#48853f"/>
<circle cx="287.70" cy="1721.03" r="4.35" fill="#48853f"/>
<circle cx="321.70" cy="1703.14" r="4.35" fill="#48853f"/>
<circle cx="355.70" cy="1577.90" r="4.35" fill="#48853f"/>
<circle cx="389.70" cy="1452.66" r="4.35" fill="#48853f"/>
<circle cx="423.70" cy="1434.77" r="4.35" fill="#48853f"/>
<circle cx="457.70" cy="1416.88" r="4.35" fill="#48853f"/>
<circle cx="491.70" cy="1398.98" r="4.35" fill="#48853f"/>
<circle cx="525.70" cy="1381.09" r="4.35" fill="#48853f"/>
<circle cx="559.70" cy="1363.20" r="4.35" fill="#48853f"/>
<line x1="134.30" y1="1792.10" x2="134.30" y2="1362.70" stroke="#c9c636" stroke-width="2.00" stroke-dasharray="6.90 2.25"/>
<line x1="168.30" y1="1792.10" x2="168.30" y2="1362.70" stroke="#3d48a6" stroke-width="2.00" stroke-dasharray="6.90 2.25"/>
<line x1="202.30" y1="1792.10" x2="202.30" y2="1362.70" stroke="#cf2a30" stroke-width="2.00" stroke-dasharray="6.90 2.25"/>
<line x1="508.30" y1="1792.10" x2="508.30" y2="1362.70" stroke="#cf2a30" stroke-width="2.00" stroke-dasharray="6.90 2.25"/>
<line x1="542.30" y1="1792.10" x2="542.30" y2="1362.70" stroke="#3d48a6" stroke-width="2.00" stroke-dasharray="6.90 2.25"/>
<line x1="576.30" y1="1792.10" x2="576.30" y2="1362.70" stroke="#c9c636" stroke-width="2.00" stroke-dasharray="6.90 2.25"/>
<rect x="123.0" y="1350.3" width="262.0" height="100.0" fill="#ffffff" fill-opacity="0.8"/>
<line x1="133.40" y1="1376.30" x2="203.00" y2="1376.30" stroke="#000000" stroke-width="3.72" stroke-dasharray="13.77 5.95"/>
<polygon points="168.20,1369.41 174.95,1374.32 172.37,1382.26 164.03,1382.26 161.45,1374.32" fill="#000000"/>
<text class="sans" x="229.5" y="1388.6" font-size="32.3" textLength="77.0" lengthAdjust="spacing">initial</text>
<line x1="133.40" y1="1427.90" x2="203.00" y2="1427.90" stroke="#48853f" stroke-width="3.72" stroke-dasharray="13.77 5.95"/>
<circle cx="168.20" cy="1427.90" r="4.80" fill="#48853f"/>
<text class="sans" x="229.5" y="1438.6" font-size="32.3" textLength="140.6" lengthAdjust="spacing">converged</text>
<rect x="112.80" y="1340.20" width="485.00" height="472.70" fill="none" stroke="#242424" stroke-width="2.20"/>
<line x1="151.30" y1="1812.90" x2="151.30" y2="1821.90" stroke="#242424" stroke-width="2.00"/>
<text class="sans" x="151.30" y="1852.30" font-size="29.1" text-anchor="middle">-6</text>
<line x1="185.30" y1="1812.90" x2="185.30" y2="1821.90" stroke="#242424" stroke-width="2.00"/>
<text class="sans" x="185.30" y="1852.30" font-size="29.1" text-anchor="middle">-5</text>
<line x1="219.30" y1="1812.90" x2="219.30" y2="1821.90" stroke="#242424" stroke-width="2.00"/>
<text class="sans" x="219.30" y="1852.30" font-size="29.1" text-anchor="middle">-4</text>
<line x1="253.30" y1="1812.90" x2="253.30" y2="1821.90" stroke="#242424" stroke-width="2.00"/>
<text class="sans" x="253.30" y="1852.30" font-size="29.1" text-anchor="middle">-3</text>
<line x1="287.30" y1="1812.90" x2="287.30" y2="1821.90" stroke="#242424" stroke-width="2.00"/>
<text class="sans" x="287.30" y="1852.30" font-size="29.1" text-anchor="middle">-2</text>
<line x1="321.30" y1="1812.90" x2="321.30" y2="1821.90" stroke="#242424" stroke-width="2.00"/>
<text class="sans" x="321.30" y="1852.30" font-size="29.1" text-anchor="middle">-1</text>
<line x1="355.30" y1="1812.90" x2="355.30" y2="1821.90" stroke="#242424" stroke-width="2.00"/>
<text class="sans" x="355.30" y="1852.30" font-size="29.1" text-anchor="middle">0</text>
<line x1="389.30" y1="1812.90" x2="389.30" y2="1821.90" stroke="#242424" stroke-width="2.00"/>
<text class="sans" x="389.30" y="1852.30" font-size="29.1" text-anchor="middle">1</text>
<line x1="423.30" y1="1812.90" x2="423.30" y2="1821.90" stroke="#242424" stroke-width="2.00"/>
<text class="sans" x="423.30" y="1852.30" font-size="29.1" text-anchor="middle">2</text>
<line x1="457.30" y1="1812.90" x2="457.30" y2="1821.90" stroke="#242424" stroke-width="2.00"/>
<text class="sans" x="457.30" y="1852.30" font-size="29.1" text-anchor="middle">3</text>
<line x1="491.30" y1="1812.90" x2="491.30" y2="1821.90" stroke="#242424" stroke-width="2.00"/>
<text class="sans" x="491.30" y="1852.30" font-size="29.1" text-anchor="middle">4</text>
<line x1="525.30" y1="1812.90" x2="525.30" y2="1821.90" stroke="#242424" stroke-width="2.00"/>
<text class="sans" x="525.30" y="1852.30" font-size="29.1" text-anchor="middle">5</text>
<line x1="559.30" y1="1812.90" x2="559.30" y2="1821.90" stroke="#242424" stroke-width="2.00"/>
<text class="sans" x="559.30" y="1852.30" font-size="29.1" text-anchor="middle">6</text>
<line x1="103.80" y1="1362.70" x2="112.80" y2="1362.70" stroke="#242424" stroke-width="2.00"/>
<line x1="597.80" y1="1362.70" x2="606.80" y2="1362.70" stroke="#242424" stroke-width="2.00"/>
<text class="sans" x="92.40" y="1373.90" font-size="29.1" text-anchor="end" letter-spacing="-1.70">2.0</text>
<text class="sans" x="614.80" y="1373.90" font-size="29.1" text-anchor="start" letter-spacing="-1.70">2.0</text>
<line x1="103.80" y1="1416.38" x2="112.80" y2="1416.38" stroke="#242424" stroke-width="2.00"/>
<line x1="597.80" y1="1416.38" x2="606.80" y2="1416.38" stroke="#242424" stroke-width="2.00"/>
<text class="sans" x="92.40" y="1427.58" font-size="29.1" text-anchor="end" letter-spacing="-1.70">1.5</text>
<text class="sans" x="614.80" y="1427.58" font-size="29.1" text-anchor="start" letter-spacing="-1.70">1.5</text>
<line x1="103.80" y1="1470.05" x2="112.80" y2="1470.05" stroke="#242424" stroke-width="2.00"/>
<line x1="597.80" y1="1470.05" x2="606.80" y2="1470.05" stroke="#242424" stroke-width="2.00"/>
<text class="sans" x="92.40" y="1481.25" font-size="29.1" text-anchor="end" letter-spacing="-1.70">1.0</text>
<text class="sans" x="614.80" y="1481.25" font-size="29.1" text-anchor="start" letter-spacing="-1.70">1.0</text>
<line x1="103.80" y1="1523.73" x2="112.80" y2="1523.73" stroke="#242424" stroke-width="2.00"/>
<line x1="597.80" y1="1523.73" x2="606.80" y2="1523.73" stroke="#242424" stroke-width="2.00"/>
<text class="sans" x="92.40" y="1534.93" font-size="29.1" text-anchor="end" letter-spacing="-1.70">0.5</text>
<text class="sans" x="614.80" y="1534.93" font-size="29.1" text-anchor="start" letter-spacing="-1.70">0.5</text>
<line x1="103.80" y1="1577.40" x2="112.80" y2="1577.40" stroke="#242424" stroke-width="2.00"/>
<line x1="597.80" y1="1577.40" x2="606.80" y2="1577.40" stroke="#242424" stroke-width="2.00"/>
<text class="sans" x="92.40" y="1588.60" font-size="29.1" text-anchor="end" letter-spacing="-1.70">0.0</text>
<text class="sans" x="614.80" y="1588.60" font-size="29.1" text-anchor="start" letter-spacing="-1.70">0.0</text>
<line x1="103.80" y1="1631.08" x2="112.80" y2="1631.08" stroke="#242424" stroke-width="2.00"/>
<line x1="597.80" y1="1631.08" x2="606.80" y2="1631.08" stroke="#242424" stroke-width="2.00"/>
<text class="sans" x="92.40" y="1642.28" font-size="29.1" text-anchor="end" letter-spacing="-1.70"><tspan letter-spacing="1.80">-</tspan>0.5</text>
<text class="sans" x="614.80" y="1642.28" font-size="29.1" text-anchor="start" letter-spacing="-1.70"><tspan letter-spacing="1.80">-</tspan>0.5</text>
<line x1="103.80" y1="1684.75" x2="112.80" y2="1684.75" stroke="#242424" stroke-width="2.00"/>
<line x1="597.80" y1="1684.75" x2="606.80" y2="1684.75" stroke="#242424" stroke-width="2.00"/>
<text class="sans" x="92.40" y="1695.95" font-size="29.1" text-anchor="end" letter-spacing="-1.70"><tspan letter-spacing="1.80">-</tspan>1.0</text>
<text class="sans" x="614.80" y="1695.95" font-size="29.1" text-anchor="start" letter-spacing="-1.70"><tspan letter-spacing="1.80">-</tspan>1.0</text>
<line x1="103.80" y1="1738.43" x2="112.80" y2="1738.43" stroke="#242424" stroke-width="2.00"/>
<line x1="597.80" y1="1738.43" x2="606.80" y2="1738.43" stroke="#242424" stroke-width="2.00"/>
<text class="sans" x="92.40" y="1749.63" font-size="29.1" text-anchor="end" letter-spacing="-1.70"><tspan letter-spacing="1.80">-</tspan>1.5</text>
<text class="sans" x="614.80" y="1749.63" font-size="29.1" text-anchor="start" letter-spacing="-1.70"><tspan letter-spacing="1.80">-</tspan>1.5</text>
<line x1="103.80" y1="1792.10" x2="112.80" y2="1792.10" stroke="#242424" stroke-width="2.00"/>
<line x1="597.80" y1="1792.10" x2="606.80" y2="1792.10" stroke="#242424" stroke-width="2.00"/>
<text class="sans" x="92.40" y="1803.30" font-size="29.1" text-anchor="end" letter-spacing="-1.70"><tspan letter-spacing="1.80">-</tspan>2.0</text>
<text class="sans" x="614.80" y="1803.30" font-size="29.1" text-anchor="start" letter-spacing="-1.70"><tspan letter-spacing="1.80">-</tspan>2.0</text>
<g transform="translate(355.30,1893.90)">
<text class="it" font-size="100" stroke="#000" stroke-width="2.20" stroke-linejoin="round" transform="matrix(0.4218 0 0 0.3600 -31.84 0.75)">ξ</text>
<text class="rm" font-size="100" transform="matrix(0.5687 0 0 0.5202 -10.60 7.99)">/</text>
<text class="it" font-size="100" stroke="#000" stroke-width="2.20" stroke-linejoin="round" transform="matrix(0.4507 0 0 0.3493 7.26 0.04)">a</text>
</g>
<g transform="translate(30.10,1679.90) rotate(-90)">
<text class="it" font-size="100" stroke="#000" stroke-width="2.20" stroke-linejoin="round" transform="matrix(0.5144 0 0 0.3484 -2.56 -0.21)">u</text>
<text class="rm" font-size="100" transform="matrix(0.3426 0 0 0.3860 24.69 0.38)">(</text>
<text class="it" font-size="100" stroke="#000" stroke-width="2.20" stroke-linejoin="round" transform="matrix(0.4015 0 0 0.3543 37.13 0.36)">ξ</text>
<text class="rm" font-size="100" transform="matrix(0.3504 0 0 0.3860 57.27 0.38)">)</text>
<text class="rm" font-size="100" transform="matrix(0.5471 0 0 0.5232 73.60 8.09)">/</text>
<text class="rm" font-size="100" transform="matrix(0.3426 0 0 0.3860 94.29 0.38)">(</text>
<text class="it" font-size="100" stroke="#000" stroke-width="2.20" stroke-linejoin="round" transform="matrix(0.5107 0 0 0.3479 107.93 -0.21)">f</text>
<text class="rm" font-size="100" transform="matrix(0.5471 0 0 0.5232 132.40 8.09)">/</text>
<text class="it" font-size="100" stroke="#000" stroke-width="2.20" stroke-linejoin="round" transform="matrix(0.4073 0 0 0.3560 150.83 0.00)">k</text>
<text class="it" font-size="100" stroke="#000" stroke-width="2.20" stroke-linejoin="round" transform="matrix(0.3115 0 0 0.2370 172.62 4.57)">s</text>
<text class="rm" font-size="100" transform="matrix(0.3660 0 0 0.3860 186.72 0.38)">)</text>
</g>
<g transform="translate(332.75,1959.60)">
<text class="rm" font-size="100" transform="matrix(0.2764 0 0 0.2779 -17.26 0.38)">(</text>
<text class="rm" font-size="100" transform="matrix(0.2856 0 0 0.2601 -7.08 0.05)">d</text>
<text class="rm" font-size="100" transform="matrix(0.2764 0 0 0.2779 8.06 0.38)">)</text>
</g>
</g>
<g>
<polyline points="986.60,1635.89 1020.60,1642.11 1054.60,1680.85 1088.60,1673.13 1122.60,1624.37 1156.60,1646.74 1190.60,1577.40 1224.60,1508.06 1258.60,1530.43 1292.60,1481.67 1326.60,1473.95 1360.60,1512.69 1394.60,1518.91" fill="none" stroke="#000000" stroke-width="3.72" stroke-dasharray="13.77 5.95"/>
<polygon points="987.00,1630.19 993.09,1634.61 990.76,1641.76 983.24,1641.76 980.91,1634.61" fill="#000000"/>
<polygon points="1021.00,1636.40 1027.09,1640.82 1024.76,1647.98 1017.24,1647.98 1014.91,1640.82" fill="#000000"/>
<polygon points="1055.00,1675.14 1061.09,1679.56 1058.76,1686.72 1051.24,1686.72 1048.91,1679.56" fill="#000000"/>
<polygon points="1089.00,1667.42 1095.09,1671.85 1092.76,1679.00 1085.24,1679.00 1082.91,1671.85" fill="#000000"/>
<polygon points="1123.00,1618.67 1129.09,1623.09 1126.76,1630.24 1119.24,1630.24 1116.91,1623.09" fill="#000000"/>
<polygon points="1157.00,1641.03 1163.09,1645.45 1160.76,1652.61 1153.24,1652.61 1150.91,1645.45" fill="#000000"/>
<polygon points="1191.00,1571.69 1197.09,1576.11 1194.76,1583.27 1187.24,1583.27 1184.91,1576.11" fill="#000000"/>
<polygon points="1225.00,1502.36 1231.09,1506.78 1228.76,1513.93 1221.24,1513.93 1218.91,1506.78" fill="#000000"/>
<polygon points="1259.00,1524.72 1265.09,1529.14 1262.76,1536.29 1255.24,1536.29 1252.91,1529.14" fill="#000000"/>
<polygon points="1293.00,1475.96 1299.09,1480.38 1296.76,1487.54 1289.24,1487.54 1286.91,1480.38" fill="#000000"/>
<polygon points="1327.00,1468.24 1333.09,1472.67 1330.76,1479.82 1323.24,1479.82 1320.91,1472.67" fill="#000000"/>
<polygon points="1361.00,1506.99 1367.09,1511.41 1364.76,1518.56 1357.24,1518.56 1354.91,1511.41" fill="#000000"/>
<polygon points="1395.00,1513.20 1401.09,1517.62 1398.76,1524.78 1391.24,1524.78 1388.91,1517.62" fill="#000000"/>
<polyline points="986.60,1646.86 1020.60,1653.18 1054.60,1659.49 1088.60,1665.81 1122.60,1672.12 1156.60,1678.44 1190.60,1577.40 1224.60,1476.36 1258.60,1482.68 1292.60,1488.99 1326.60,1495.31 1360.60,1501.62 1394.60,1507.94" fill="none" stroke="#48853f" stroke-width="3.72" stroke-dasharray="13.77 5.95"/>
<circle cx="987.00" cy="1647.36" r="4.35" fill="#48853f"/>
<circle cx="1021.00" cy="1653.68" r="4.35" fill="#48853f"/>
<circle cx="1055.00" cy="1659.99" r="4.35" fill="#48853f"/>
<circle cx="1089.00" cy="1666.31" r="4.35" fill="#48853f"/>
<circle cx="1123.00" cy="1672.62" r="4.35" fill="#48853f"/>
<circle cx="1157.00" cy="1678.94" r="4.35" fill="#48853f"/>
<circle cx="1191.00" cy="1577.90" r="4.35" fill="#48853f"/>
<circle cx="1225.00" cy="1476.86" r="4.35" fill="#48853f"/>
<circle cx="1259.00" cy="1483.18" r="4.35" fill="#48853f"/>
<circle cx="1293.00" cy="1489.49" r="4.35" fill="#48853f"/>
<circle cx="1327.00" cy="1495.81" r="4.35" fill="#48853f"/>
<circle cx="1361.00" cy="1502.12" r="4.35" fill="#48853f"/>
<circle cx="1395.00" cy="1508.44" r="4.35" fill="#48853f"/>
<line x1="969.60" y1="1792.10" x2="969.60" y2="1362.70" stroke="#c9c636" stroke-width="2.00" stroke-dasharray="6.90 2.25"/>
<line x1="1003.60" y1="1792.10" x2="1003.60" y2="1362.70" stroke="#3d48a6" stroke-width="2.00" stroke-dasharray="6.90 2.25"/>
<line x1="1037.60" y1="1792.10" x2="1037.60" y2="1362.70" stroke="#cf2a30" stroke-width="2.00" stroke-dasharray="6.90 2.25"/>
<line x1="1343.60" y1="1792.10" x2="1343.60" y2="1362.70" stroke="#cf2a30" stroke-width="2.00" stroke-dasharray="6.90 2.25"/>
<line x1="1377.60" y1="1792.10" x2="1377.60" y2="1362.70" stroke="#3d48a6" stroke-width="2.00" stroke-dasharray="6.90 2.25"/>
<line x1="1411.60" y1="1792.10" x2="1411.60" y2="1362.70" stroke="#c9c636" stroke-width="2.00" stroke-dasharray="6.90 2.25"/>
<rect x="958.3" y="1350.3" width="262.0" height="100.0" fill="#ffffff" fill-opacity="0.8"/>
<line x1="968.70" y1="1376.30" x2="1038.30" y2="1376.30" stroke="#000000" stroke-width="3.72" stroke-dasharray="13.77 5.95"/>
<polygon points="1003.50,1369.41 1010.25,1374.32 1007.67,1382.26 999.33,1382.26 996.75,1374.32" fill="#000000"/>
<text class="sans" x="1064.8" y="1388.6" font-size="32.3" textLength="77.0" lengthAdjust="spacing">initial</text>
<line x1="968.70" y1="1427.90" x2="1038.30" y2="1427.90" stroke="#48853f" stroke-width="3.72" stroke-dasharray="13.77 5.95"/>
<circle cx="1003.50" cy="1427.90" r="4.80" fill="#48853f"/>
<text class="sans" x="1064.8" y="1438.6" font-size="32.3" textLength="140.6" lengthAdjust="spacing">converged</text>
<rect x="948.10" y="1340.20" width="485.00" height="472.70" fill="none" stroke="#242424" stroke-width="2.20"/>
<line x1="986.60" y1="1812.90" x2="986.60" y2="1821.90" stroke="#242424" stroke-width="2.00"/>
<text class="sans" x="986.60" y="1852.30" font-size="29.1" text-anchor="middle">-6</text>
<line x1="1020.60" y1="1812.90" x2="1020.60" y2="1821.90" stroke="#242424" stroke-width="2.00"/>
<text class="sans" x="1020.60" y="1852.30" font-size="29.1" text-anchor="middle">-5</text>
<line x1="1054.60" y1="1812.90" x2="1054.60" y2="1821.90" stroke="#242424" stroke-width="2.00"/>
<text class="sans" x="1054.60" y="1852.30" font-size="29.1" text-anchor="middle">-4</text>
<line x1="1088.60" y1="1812.90" x2="1088.60" y2="1821.90" stroke="#242424" stroke-width="2.00"/>
<text class="sans" x="1088.60" y="1852.30" font-size="29.1" text-anchor="middle">-3</text>
<line x1="1122.60" y1="1812.90" x2="1122.60" y2="1821.90" stroke="#242424" stroke-width="2.00"/>
<text class="sans" x="1122.60" y="1852.30" font-size="29.1" text-anchor="middle">-2</text>
<line x1="1156.60" y1="1812.90" x2="1156.60" y2="1821.90" stroke="#242424" stroke-width="2.00"/>
<text class="sans" x="1156.60" y="1852.30" font-size="29.1" text-anchor="middle">-1</text>
<line x1="1190.60" y1="1812.90" x2="1190.60" y2="1821.90" stroke="#242424" stroke-width="2.00"/>
<text class="sans" x="1190.60" y="1852.30" font-size="29.1" text-anchor="middle">0</text>
<line x1="1224.60" y1="1812.90" x2="1224.60" y2="1821.90" stroke="#242424" stroke-width="2.00"/>
<text class="sans" x="1224.60" y="1852.30" font-size="29.1" text-anchor="middle">1</text>
<line x1="1258.60" y1="1812.90" x2="1258.60" y2="1821.90" stroke="#242424" stroke-width="2.00"/>
<text class="sans" x="1258.60" y="1852.30" font-size="29.1" text-anchor="middle">2</text>
<line x1="1292.60" y1="1812.90" x2="1292.60" y2="1821.90" stroke="#242424" stroke-width="2.00"/>
<text class="sans" x="1292.60" y="1852.30" font-size="29.1" text-anchor="middle">3</text>
<line x1="1326.60" y1="1812.90" x2="1326.60" y2="1821.90" stroke="#242424" stroke-width="2.00"/>
<text class="sans" x="1326.60" y="1852.30" font-size="29.1" text-anchor="middle">4</text>
<line x1="1360.60" y1="1812.90" x2="1360.60" y2="1821.90" stroke="#242424" stroke-width="2.00"/>
<text class="sans" x="1360.60" y="1852.30" font-size="29.1" text-anchor="middle">5</text>
<line x1="1394.60" y1="1812.90" x2="1394.60" y2="1821.90" stroke="#242424" stroke-width="2.00"/>
<text class="sans" x="1394.60" y="1852.30" font-size="29.1" text-anchor="middle">6</text>
<line x1="939.10" y1="1362.70" x2="948.10" y2="1362.70" stroke="#242424" stroke-width="2.00"/>
<line x1="1433.10" y1="1362.70" x2="1442.10" y2="1362.70" stroke="#242424" stroke-width="2.00"/>
<text class="sans" x="927.70" y="1373.90" font-size="29.1" text-anchor="end" letter-spacing="-1.70">2.0</text>
<text class="sans" x="1450.10" y="1373.90" font-size="29.1" text-anchor="start" letter-spacing="-1.70">2.0</text>
<line x1="939.10" y1="1416.38" x2="948.10" y2="1416.38" stroke="#242424" stroke-width="2.00"/>
<line x1="1433.10" y1="1416.38" x2="1442.10" y2="1416.38" stroke="#242424" stroke-width="2.00"/>
<text class="sans" x="927.70" y="1427.58" font-size="29.1" text-anchor="end" letter-spacing="-1.70">1.5</text>
<text class="sans" x="1450.10" y="1427.58" font-size="29.1" text-anchor="start" letter-spacing="-1.70">1.5</text>
<line x1="939.10" y1="1470.05" x2="948.10" y2="1470.05" stroke="#242424" stroke-width="2.00"/>
<line x1="1433.10" y1="1470.05" x2="1442.10" y2="1470.05" stroke="#242424" stroke-width="2.00"/>
<text class="sans" x="927.70" y="1481.25" font-size="29.1" text-anchor="end" letter-spacing="-1.70">1.0</text>
<text class="sans" x="1450.10" y="1481.25" font-size="29.1" text-anchor="start" letter-spacing="-1.70">1.0</text>
<line x1="939.10" y1="1523.73" x2="948.10" y2="1523.73" stroke="#242424" stroke-width="2.00"/>
<line x1="1433.10" y1="1523.73" x2="1442.10" y2="1523.73" stroke="#242424" stroke-width="2.00"/>
<text class="sans" x="927.70" y="1534.93" font-size="29.1" text-anchor="end" letter-spacing="-1.70">0.5</text>
<text class="sans" x="1450.10" y="1534.93" font-size="29.1" text-anchor="start" letter-spacing="-1.70">0.5</text>
<line x1="939.10" y1="1577.40" x2="948.10" y2="1577.40" stroke="#242424" stroke-width="2.00"/>
<line x1="1433.10" y1="1577.40" x2="1442.10" y2="1577.40" stroke="#242424" stroke-width="2.00"/>
<text class="sans" x="927.70" y="1588.60" font-size="29.1" text-anchor="end" letter-spacing="-1.70">0.0</text>
<text class="sans" x="1450.10" y="1588.60" font-size="29.1" text-anchor="start" letter-spacing="-1.70">0.0</text>
<line x1="939.10" y1="1631.08" x2="948.10" y2="1631.08" stroke="#242424" stroke-width="2.00"/>
<line x1="1433.10" y1="1631.08" x2="1442.10" y2="1631.08" stroke="#242424" stroke-width="2.00"/>
<text class="sans" x="927.70" y="1642.28" font-size="29.1" text-anchor="end" letter-spacing="-1.70"><tspan letter-spacing="1.80">-</tspan>0.5</text>
<text class="sans" x="1450.10" y="1642.28" font-size="29.1" text-anchor="start" letter-spacing="-1.70"><tspan letter-spacing="1.80">-</tspan>0.5</text>
<line x1="939.10" y1="1684.75" x2="948.10" y2="1684.75" stroke="#242424" stroke-width="2.00"/>
<line x1="1433.10" y1="1684.75" x2="1442.10" y2="1684.75" stroke="#242424" stroke-width="2.00"/>
<text class="sans" x="927.70" y="1695.95" font-size="29.1" text-anchor="end" letter-spacing="-1.70"><tspan letter-spacing="1.80">-</tspan>1.0</text>
<text class="sans" x="1450.10" y="1695.95" font-size="29.1" text-anchor="start" letter-spacing="-1.70"><tspan letter-spacing="1.80">-</tspan>1.0</text>
<line x1="939.10" y1="1738.43" x2="948.10" y2="1738.43" stroke="#242424" stroke-width="2.00"/>
<line x1="1433.10" y1="1738.43" x2="1442.10" y2="1738.43" stroke="#242424" stroke-width="2.00"/>
<text class="sans" x="927.70" y="1749.63" font-size="29.1" text-anchor="end" letter-spacing="-1.70"><tspan letter-spacing="1.80">-</tspan>1.5</text>
<text class="sans" x="1450.10" y="1749.63" font-size="29.1" text-anchor="start" letter-spacing="-1.70"><tspan letter-spacing="1.80">-</tspan>1.5</text>
<line x1="939.10" y1="1792.10" x2="948.10" y2="1792.10" stroke="#242424" stroke-width="2.00"/>
<line x1="1433.10" y1="1792.10" x2="1442.10" y2="1792.10" stroke="#242424" stroke-width="2.00"/>
<text class="sans" x="927.70" y="1803.30" font-size="29.1" text-anchor="end" letter-spacing="-1.70"><tspan letter-spacing="1.80">-</tspan>2.0</text>
<text class="sans" x="1450.10" y="1803.30" font-size="29.1" text-anchor="start" letter-spacing="-1.70"><tspan letter-spacing="1.80">-</tspan>2.0</text>
<g transform="translate(1190.60,1893.90)">
<text class="it" font-size="100" stroke="#000" stroke-width="2.20" stroke-linejoin="round" transform="matrix(0.4218 0 0 0.3600 -31.84 0.75)">ξ</text>
<text class="rm" font-size="100" transform="matrix(0.5687 0 0 0.5202 -10.60 7.99)">/</text>
<text class="it" font-size="100" stroke="#000" stroke-width="2.20" stroke-linejoin="round" transform="matrix(0.4507 0 0 0.3493 7.26 0.04)">a</text>
</g>
<g transform="translate(865.40,1679.90) rotate(-90)">
<text class="it" font-size="100" stroke="#000" stroke-width="2.20" stroke-linejoin="round" transform="matrix(0.5144 0 0 0.3484 -2.56 -0.21)">u</text>
<text class="rm" font-size="100" transform="matrix(0.3426 0 0 0.3860 24.69 0.38)">(</text>
<text class="it" font-size="100" stroke="#000" stroke-width="2.20" stroke-linejoin="round" transform="matrix(0.4015 0 0 0.3543 37.13 0.36)">ξ</text>
<text class="rm" font-size="100" transform="matrix(0.3504 0 0 0.3860 57.27 0.38)">)</text>
<text class="rm" font-size="100" transform="matrix(0.5471 0 0 0.5232 73.60 8.09)">/</text>
<text class="rm" font-size="100" transform="matrix(0.3426 0 0 0.3860 94.29 0.38)">(</text>
<text class="it" font-size="100" stroke="#000" stroke-width="2.20" stroke-linejoin="round" transform="matrix(0.5107 0 0 0.3479 107.93 -0.21)">f</text>
<text class="rm" font-size="100" transform="matrix(0.5471 0 0 0.5232 132.40 8.09)">/</text>
<text class="it" font-size="100" stroke="#000" stroke-width="2.20" stroke-linejoin="round" transform="matrix(0.4073 0 0 0.3560 150.83 0.00)">k</text>
<text class="it" font-size="100" stroke="#000" stroke-width="2.20" stroke-linejoin="round" transform="matrix(0.3115 0 0 0.2370 172.62 4.57)">s</text>
<text class="rm" font-size="100" transform="matrix(0.3660 0 0 0.3860 186.72 0.38)">)</text>
</g>
<g transform="translate(1168.05,1959.60)">
<text class="rm" font-size="100" transform="matrix(0.2764 0 0 0.2779 -15.81 0.38)">(</text>
<text class="rm" font-size="100" transform="matrix(0.2918 0 0 0.2495 -6.14 0.06)">e</text>
<text class="rm" font-size="100" transform="matrix(0.2764 0 0 0.2779 6.61 0.38)">)</text>
</g>
</g>
</svg>
</body></html>
